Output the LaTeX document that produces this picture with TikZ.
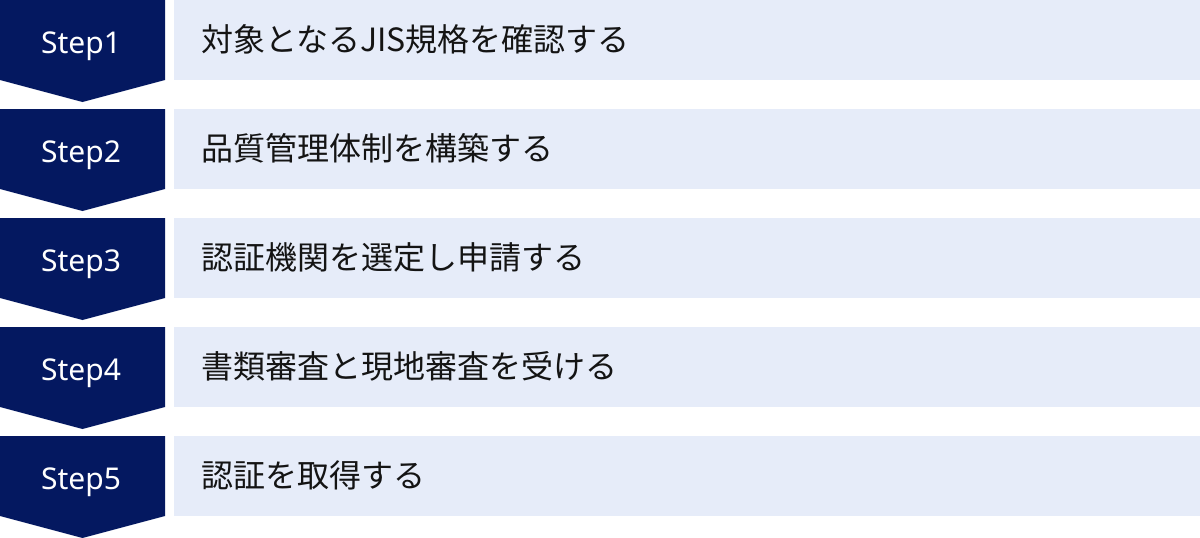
\documentclass[tikz,border=0pt]{standalone}
\usepackage{fontspec}
\setmainfont{Noto Sans CJK JP}
\newfontfamily\steplatin{Noto Sans}
\definecolor{stepnavy}{RGB}{4,24,96}
\definecolor{taskbg}{RGB}{230,236,249}
\definecolor{taskink}{RGB}{20,20,20}

\tikzset{
	steplabel/.style={anchor=base, inner sep=0pt, text=white, font=\steplatin\fontsize{30}{30}\selectfont},
	tasklabel/.style={anchor=base west, inner sep=0pt, text=taskink, font=\fontsize{32}{32}\selectfont}
}

\begin{document}
\begin{tikzpicture}[x=1pt, y=-1pt]
	\useasboundingbox (0, 0) rectangle (1200, 538);
	
	\foreach \i/\task in {1/対象となるJIS規格を確認する, 2/品質管理体制を構築する, 3/認証機関を選定し申請する, 4/書類審査と現地審査を受ける, 5/認証を取得する} {
		\pgfmathsetmacro{\rowtop}{(\i - 1) * 109}
		
		\fill[stepnavy] (0, \rowtop) -- (165, \rowtop) -- (165, \rowtop + 80) -- (82.5, \rowtop + 102) -- (0, \rowtop + 80) -- cycle;
		\fill[taskbg] (174, \rowtop) rectangle (1200, \rowtop + 80);
		
		\node[steplabel] (step\i) at (81, \rowtop + 53) {Step\i};
		\node[tasklabel] (task\i) at (201, \rowtop + 51) {\task};
	}
	
\end{tikzpicture}
\end{document}
